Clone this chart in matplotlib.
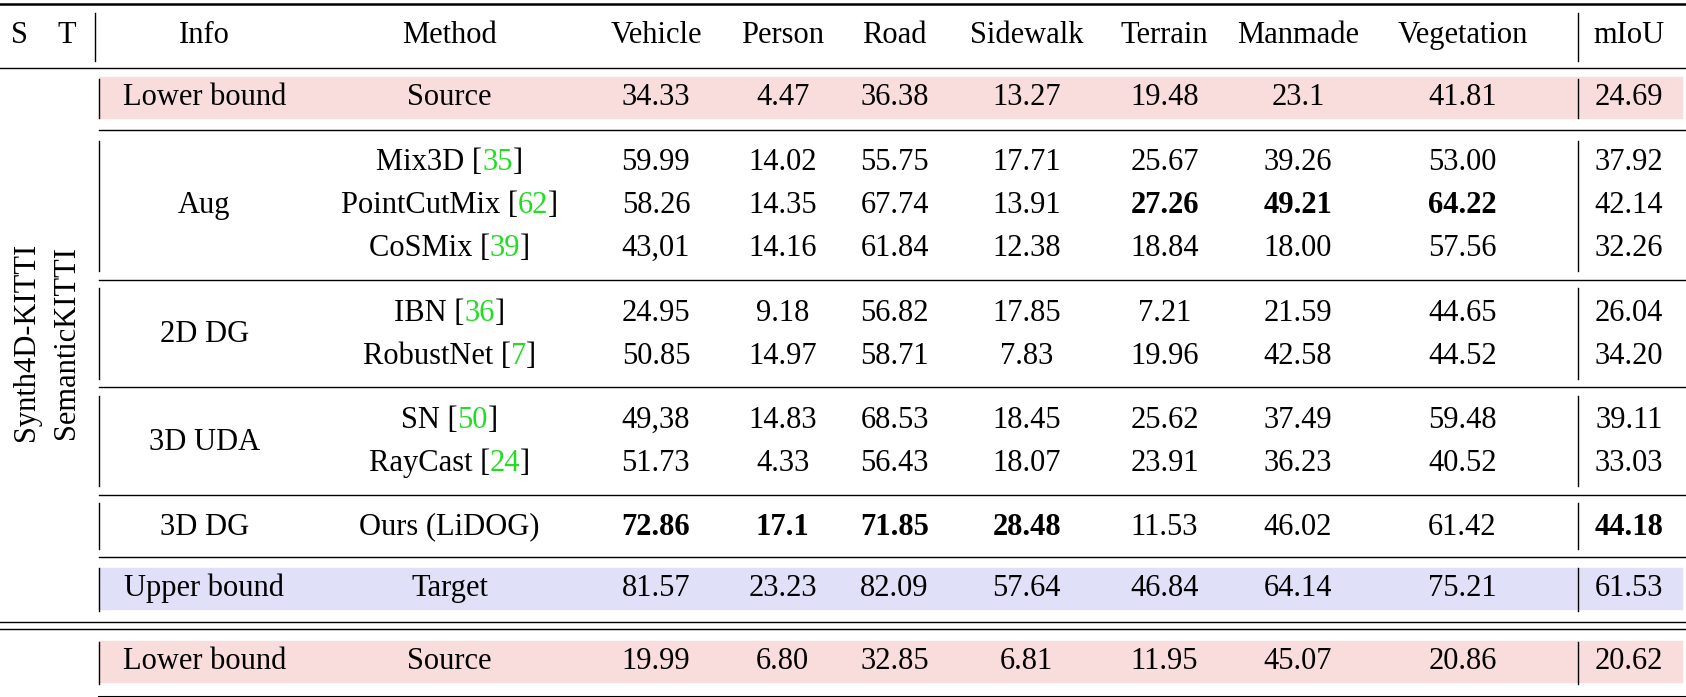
import matplotlib
matplotlib.use("Agg")
import matplotlib.pyplot as plt

plt.rcParams['font.family'] = ['Liberation Serif', 'DejaVu Serif']
FS = 22

columns = ["Vehicle", "Person", "Road", "Sidewalk", "Terrain", "Manmade", "Vegetation", "mIoU"]
infos = ["Lower bound", "Aug", "", "", "2D DG", "", "3D UDA", "", "3D DG", "Upper bound", "Lower bound"]
methods = [("Source", ""), ("Mix3D ", "35"), ("PointCutMix ", "62"), ("CoSMix ", "39"),
           ("IBN ", "36"), ("RobustNet ", "7"), ("SN ", "50"), ("RayCast ", "24"),
           ("Ours (LiDOG)", ""), ("Target", ""), ("Source", "")]
values = [
    ["34.33", "4.47", "36.38", "13.27", "19.48", "23.1", "41.81", "24.69"],
    ["59.99", "14.02", "55.75", "17.71", "25.67", "39.26", "53.00", "37.92"],
    ["58.26", "14.35", "67.74", "13.91", "27.26", "49.21", "64.22", "42.14"],
    ["43,01", "14.16", "61.84", "12.38", "18.84", "18.00", "57.56", "32.26"],
    ["24.95", "9.18", "56.82", "17.85", "7.21", "21.59", "44.65", "26.04"],
    ["50.85", "14.97", "58.71", "7.83", "19.96", "42.58", "44.52", "34.20"],
    ["49,38", "14.83", "68.53", "18.45", "25.62", "37.49", "59.48", "39.11"],
    ["51.73", "4.33", "56.43", "18.07", "23.91", "36.23", "40.52", "33.03"],
    ["72.86", "17.1", "71.85", "28.48", "11.53", "46.02", "61.42", "44.18"],
    ["81.57", "23.23", "82.09", "57.64", "46.84", "64.14", "75.21", "61.53"],
    ["19.99", "6.80", "32.85", "6.81", "11.95", "45.07", "20.86", "20.62"],
]
bold = {(2, 4), (2, 5), (2, 6), (8, 0), (8, 1), (8, 2), (8, 3), (8, 7)}

W, H = 1568, 648
fig = plt.figure(figsize=(16.86, 6.97), dpi=100)
ax = fig.add_axes([0, 0, 1, 1])
ax.set_xlim(0, W); ax.set_ylim(H, 0); ax.axis('off')

col_x = [610, 728, 832, 955, 1083, 1207, 1360, 1515]
info_x, meth_x = 190, 418
row_y = [91, 151, 191, 231, 291, 331, 391, 431, 490, 547, 615]
info_y = {0: 91, 1: 191, 4: 311, 6: 411, 8: 490, 9: 547, 10: 615}

for ri, c in [(0, '#f9dcdc'), (9, '#e0e0f8'), (10, '#f9dcdc')]:
    ax.add_patch(plt.Rectangle((92, row_y[ri] - 19), 1472, 38, color=c, zorder=0))

ax.plot([0, W], [4, 4], color='k', lw=1.8)
ax.plot([0, W], [63, 63], color='k', lw=1.0)
for y in [121, 260, 360, 460, 518]:
    ax.plot([92, W], [y, y], color='k', lw=1.0)
ax.plot([0, W], [578, 578], color='k', lw=1.0)
ax.plot([0, W], [585, 585], color='k', lw=1.0)
ax.plot([92, W], [648, 648], color='k', lw=1.5)
ax.plot([88, 88], [12, 57], color='k', lw=1.0)
ax.plot([1468, 1468], [12, 57], color='k', lw=1.0)
for y0, y1 in [(73, 110), (131, 252), (268, 352), (368, 452), (468, 510), (528, 568), (597, 636)]:
    ax.plot([92, 92], [y0, y1], color='k', lw=1.0)
    ax.plot([1468, 1468], [y0, y1], color='k', lw=1.0)

ax.text(18, 33, "S", fontsize=FS, ha='center', va='center')
ax.text(62, 33, "T", fontsize=FS, ha='center', va='center')
ax.text(info_x, 33, "Info", fontsize=FS, ha='center', va='center')
ax.text(meth_x, 33, "Method", fontsize=FS, ha='center', va='center')
for x, c in zip(col_x, columns):
    ax.text(x, 33, c, fontsize=FS, ha='center', va='center')

ax.text(25, 318, "Synth4D-KITTI", fontsize=FS, ha='center', va='center', rotation=90)
ax.text(62, 318, "SemanticKITTI", fontsize=FS, ha='center', va='center', rotation=90)

fig.canvas.draw()
r = fig.canvas.get_renderer()
inv = ax.transData.inverted()

def width(t):
    bb = t.get_window_extent(r)
    p0 = inv.transform((bb.x0, bb.y0)); p1 = inv.transform((bb.x1, bb.y0))
    return p1[0] - p0[0]

for i, y in info_y.items():
    ax.text(info_x, y, infos[i], fontsize=FS, ha='center', va='center')

for i, (name, ref) in enumerate(methods):
    y = row_y[i]
    if not ref:
        ax.text(meth_x, y, name, fontsize=FS, ha='center', va='center')
        continue
    parts = [(name + "[", 'k'), (ref, '#22dd22'), ("]", 'k')]
    texts = [ax.text(0, y, p, fontsize=FS, ha='left', va='center', color=c) for p, c in parts]
    ws = [width(t) for t in texts]
    x = meth_x - sum(ws) / 2
    for t, w in zip(texts, ws):
        t.set_x(x); x += w

for i, row in enumerate(values):
    for j, v in enumerate(row):
        ax.text(col_x[j], row_y[i], v, fontsize=FS, ha='center', va='center',
                fontweight='bold' if (i, j) in bold else 'normal')

fig.savefig("out.png", dpi=100)
